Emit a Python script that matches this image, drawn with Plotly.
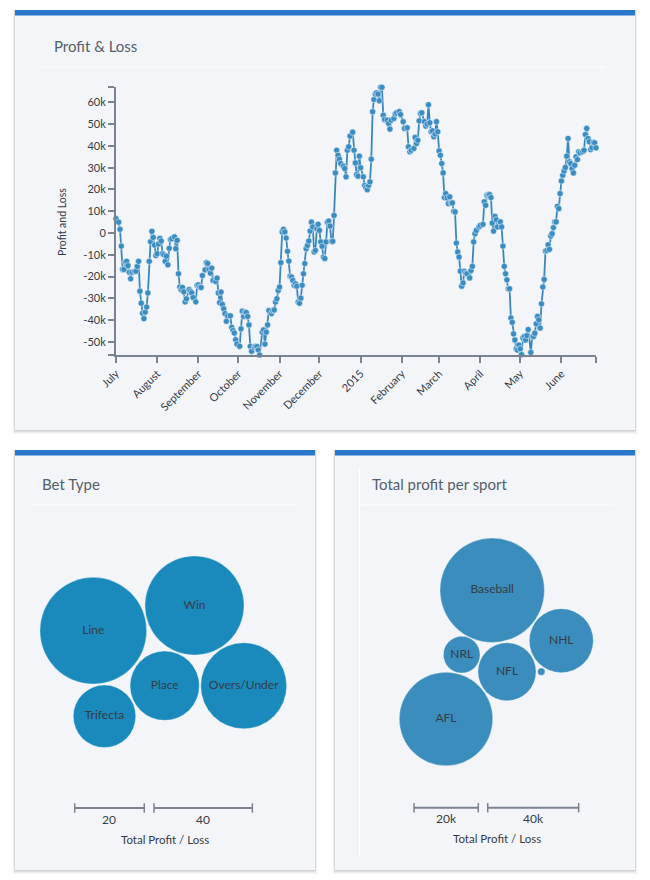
import pandas as pd
import plotly.graph_objects as go

# ---------------- DATA ----------------
START = "2014-07-01"
# day offsets from START and cumulative profit/loss (thousands)
pnl_days = [
    0, 2, 3, 4, 5, 6, 7, 8, 9, 10,
    11, 12, 14, 15, 16, 17, 18, 19, 20, 21,
    22, 23, 24, 25, 26, 27, 28, 29, 30, 31,
    32, 33, 34, 35, 36, 37, 38, 39, 40, 41,
    42, 44, 45, 46, 47, 48, 49, 50, 51, 52,
    53, 55, 56, 57, 58, 60, 61, 62, 63, 64,
    65, 67, 68, 69, 70, 71, 72, 73, 75, 76,
    77, 78, 79, 80, 81, 82, 83, 84, 86, 87,
    88, 89, 90, 91, 93, 94, 95, 96, 97, 98,
    99, 100, 101, 102, 104, 105, 106, 107, 108, 110,
    111, 112, 113, 114, 115, 117, 118, 119, 120, 121,
    122, 123, 124, 125, 126, 127, 128, 129, 130, 131,
    132, 133, 134, 135, 136, 137, 138, 139, 140, 141,
    142, 143, 144, 145, 146, 147, 148, 149, 150, 151,
    152, 153, 154, 155, 156, 157, 158, 159, 160, 161,
    162, 163, 164, 165, 166, 167, 168, 169, 171, 172,
    173, 174, 175, 176, 178, 179, 180, 181, 182, 183,
    184, 186, 187, 188, 189, 190, 191, 192, 193, 194,
    195, 196, 197, 198, 199, 200, 201, 202, 204, 205,
    206, 207, 209, 210, 211, 213, 214, 216, 217, 219,
    220, 221, 222, 224, 225, 226, 227, 228, 229, 230,
    232, 233, 234, 235, 236, 237, 238, 239, 240, 241,
    242, 243, 244, 245, 246, 247, 248, 249, 250, 251,
    252, 253, 254, 255, 256, 257, 258, 259, 260, 261,
    262, 263, 264, 266, 267, 268, 269, 270, 271, 273,
    274, 276, 277, 278, 279, 280, 281, 282, 283, 284,
    285, 286, 287, 289, 290, 291, 292, 293, 294, 295,
    296, 297, 298, 299, 300, 301, 302, 303, 304, 305,
    306, 307, 308, 309, 310, 312, 313, 314, 315, 316,
    317, 318, 319, 320, 321, 322, 323, 324, 325, 326,
    327, 328, 329, 330, 331, 332, 333, 334, 335, 336,
    337, 338, 339, 340, 341, 342, 343, 344, 345, 346,
    347, 348, 349, 351, 352, 353, 354, 355, 356, 357,
    358, 359, 360, 361,
]
pnl_k = [
    6.6, 5.0, 1.7, -6.0, -16.7, -16.7, -13.3, -13.0, -15.0, -18.0,
    -21.0, -18.0, -17.6, -17.5, -15.3, -13.0, -26.7, -32.2, -36.8, -39.3,
    -36.3, -34.0, -27.5, -13.0, -4.0, 0.8, -2.0, -5.5, -10.3, -9.5,
    -5.0, -2.5, -3.7, -9.4, -10.0, -13.0, -10.6, -14.6, -7.0, -3.0,
    -2.6, -1.8, -7.2, -3.4, -18.7, -24.8, -26.0, -25.0, -27.0, -31.6,
    -30.2, -26.0, -26.8, -27.5, -29.6, -31.6, -24.0, -23.8, -24.8, -25.0,
    -19.5, -16.9, -13.6, -14.0, -16.7, -18.4, -16.1, -21.8, -22.2, -20.7,
    -27.5, -32.0, -27.1, -32.8, -34.8, -37.0, -40.5, -38.0, -38.0, -43.3,
    -44.8, -45.9, -49.0, -51.0, -52.0, -44.0, -35.9, -38.3, -36.3, -36.5,
    -38.3, -42.2, -52.0, -54.3, -52.5, -52.0, -52.1, -53.7, -56.0, -45.5,
    -44.5, -51.0, -45.5, -42.2, -35.6, -37.0, -35.6, -35.3, -31.7, -30.2,
    -26.4, -24.8, -13.6, 0.5, 1.7, 0.5, -2.3, -8.4, -12.9, -19.8,
    -20.2, -21.8, -24.0, -23.3, -24.4, -31.7, -32.2, -29.9, -24.0, -18.7,
    -14.0, -7.2, -5.7, -3.7, 0.9, 5.0, 2.8, -8.7, -8.0, 2.0,
    4.0, 1.2, -4.1, -6.1, -11.0, -11.7, -4.1, 5.0, 5.5, 3.2,
    -3.8, -3.8, 8.1, 27.6, 38.0, 35.7, 33.9, 31.9, 30.7, 29.6,
    25.8, 38.0, 39.6, 44.5, 46.3, 38.0, 32.2, 26.8, 26.1, 35.3,
    30.0, 25.8, 21.9, 20.9, 19.9, 21.9, 23.5, 33.9, 55.7, 61.3,
    63.8, 64.4, 63.8, 60.7, 66.9, 66.9, 54.1, 52.1, 51.8, 50.3,
    47.7, 51.8, 52.6, 54.6, 55.2, 55.7, 54.4, 51.1, 48.0, 48.3,
    39.6, 37.3, 38.0, 38.8, 43.9, 41.1, 42.6, 51.5, 54.9, 55.2,
    51.1, 49.1, 50.0, 58.9, 50.6, 46.5, 46.9, 44.2, 45.4, 51.1,
    46.5, 37.7, 35.7, 31.9, 27.6, 16.3, 18.1, 16.1, 13.5, 16.6,
    13.8, 13.8, 10.0, 9.7, -4.6, -8.7, -11.0, -17.5, -24.4, -22.9,
    -17.6, -18.4, -18.7, -20.6, -17.2, -15.3, -4.1, -0.3, 1.2, 2.8,
    3.5, 4.0, 14.3, 12.7, 17.3, 17.6, 17.6, 16.3, 4.6, 0.9,
    7.7, 6.1, 2.8, 5.1, 2.8, -6.0, -15.3, -18.7, -21.5, -25.6,
    -25.6, -39.0, -41.0, -46.3, -49.1, -53.2, -53.7, -51.4, -53.2, -55.8,
    -48.2, -47.5, -49.1, -47.1, -44.3, -54.8, -47.5, -47.5, -46.0, -41.7,
    -38.3, -39.9, -43.6, -32.5, -24.8, -21.3, -8.3, -8.0, -5.4, -7.5,
    -1.4, -0.3, 2.5, 5.1, 5.1, 12.3, 11.2, 18.1, 23.9, 26.5,
    28.5, 30.1, 35.3, 43.4, 32.7, 31.9, 29.6, 27.6, 31.1, 35.0,
    33.7, 37.3, 36.8, 37.3, 38.0, 45.2, 48.0, 43.4, 41.9, 38.3,
    39.1, 41.6, 41.4, 39.1,
]
assert len(pnl_days) == len(pnl_k)

month_ticks = ["2014-07-01", "2014-08-01", "2014-09-01", "2014-10-01", "2014-11-01",
               "2014-12-01", "2015-01-01", "2015-02-01", "2015-03-01", "2015-04-01",
               "2015-05-01", "2015-06-01"]
month_labels = ["July", "August", "September", "October", "November", "December",
                "2015", "February", "March", "April", "May", "June"]
y_ticks_k = [-50, -40, -30, -20, -10, 0, 10, 20, 30, 40, 50, 60]
y_tick_labels = ["-50k", "-40k", "-30k", "-20k", "-10k", "0", "10k", "20k", "30k",
                 "40k", "50k", "60k"]

bet_types = ["Line", "Win", "Place", "Overs/Under", "Trifecta"]
bet_profit = [47.0, 40.5, 19.8, 30.5, 16.1]
bet_legend_vals = [20, 40]
bet_legend_labels = ["20", "40"]

sports = ["Baseball", "NHL", "NRL", "NFL", "Other", "AFL"]
sport_profit_k = [52.7, 19.8, 6.5, 16.3, 0.26, 42.2]
sport_legend_vals = [20, 40]
sport_legend_labels = ["20k", "40k"]

# ---------------- LAYOUT / STYLE ----------------
W, H = 650, 880
FONT = "Lato"
AX = "#7b8391"
CARD = "#f3f5f9"
BLUE_BAR = "#2a78cc"
TITLE_C = "#555e6a"
TEXT_C = "#363c45"

# packed-bubble centre positions (panel pixel units, layout only)
BET_POS = [(78.3, 175.7), (179.5, 150.5), (149.7, 230.7), (228.7, 230.8), (89.5, 261.3)]
SPORT_POS = [(157.2, 135.3), (226.3, 185.7), (126.7, 199.7), (172.0, 216.7), (206.3, 216.7), (111.0, 264.0)]
BET_K = 15.56     # px diameter per sqrt(unit)
SPORT_K = 14.38


def fx(x):
    return x / W


def fy(y):
    return 1 - y / H


shapes = []
annotations = []


def card(x0, y0, x1, y1):
    # soft shadow
    for d, a in [(4, 0.03), (3, 0.04), (2, 0.05), (1, 0.06)]:
        shapes.append(dict(type="rect", xref="paper", yref="paper", layer="below",
                           x0=fx(x0 - d * 0.5), x1=fx(x1 + d * 0.5), y0=fy(y1 + d), y1=fy(y0),
                           fillcolor=f"rgba(0,0,0,{a})", line=dict(width=0)))
    shapes.append(dict(type="rect", xref="paper", yref="paper", layer="below",
                       x0=fx(x0), x1=fx(x1), y0=fy(y1), y1=fy(y0),
                       fillcolor=CARD, line=dict(width=0)))
    shapes.append(dict(type="rect", xref="paper", yref="paper", layer="below",
                       x0=fx(x0), x1=fx(x1), y0=fy(y0 + 5.5), y1=fy(y0),
                       fillcolor=BLUE_BAR, line=dict(width=0)))


def hline(x0, x1, y):
    shapes.append(dict(type="line", xref="paper", yref="paper", layer="below",
                       x0=fx(x0), x1=fx(x1), y0=fy(y), y1=fy(y),
                       line=dict(color="#ffffff", width=1.2)))


def title(text, x, y):
    annotations.append(dict(text=text, xref="paper", yref="paper", x=fx(x), y=fy(y),
                            xanchor="left", yanchor="middle", showarrow=False,
                            font=dict(family=FONT, size=15, color=TITLE_C)))


card(15, 10, 635, 430)
card(15, 450, 315, 870)
card(335, 450, 635, 870)
hline(40, 605, 67)
hline(32, 296, 505)
hline(360, 615, 505)
shapes.append(dict(type="line", xref="paper", yref="paper", layer="below",
                   x0=fx(359.5), x1=fx(359.5), y0=fy(467), y1=fy(856),
                   line=dict(color="#ffffff", width=1.2)))
title("Profit &amp; Loss", 52, 45.5)
title("Bet Type", 40, 484)
title("Total profit per sport", 370, 484)

annotations.append(dict(text="Profit and Loss", xref="paper", yref="paper",
                        x=fx(62), y=fy(222), textangle=-90, showarrow=False,
                        xanchor="center", yanchor="middle",
                        font=dict(family=FONT, size=10.5, color=TEXT_C)))

fig = go.Figure()

# ---- Profit & Loss line ----
dates = pd.Timestamp(START) + pd.to_timedelta(pnl_days, unit="D")
fig.add_trace(go.Scatter(
    x=dates, y=pnl_k, mode="lines+markers",
    line=dict(color="#3a87be", width=1.8),
    marker=dict(size=6.2, color="#3a8cc2", line=dict(color="rgba(255,255,255,0.55)", width=0.9)),
    cliponaxis=False, hoverinfo="skip", showlegend=False, xaxis="x", yaxis="y"))

# ---- bubble panels ----
def bubbles(names, vals, pos, k, color, xa, ya):
    sizes = [k * v ** 0.5 for v in vals]
    labels = [n if s > 20 else "" for n, s in zip(names, sizes)]
    fig.add_trace(go.Scatter(
        x=[p[0] for p in pos], y=[p[1] for p in pos], mode="markers+text",
        text=labels, textposition="middle center",
        textfont=dict(family=FONT, size=12, color=TEXT_C),
        marker=dict(size=sizes, sizemode="diameter", color=color, opacity=1,
                    line=dict(width=0.6, color="rgba(255,255,255,0.5)")),
        cliponaxis=False, hoverinfo="skip", showlegend=False, xaxis=xa, yaxis=ya))


def size_legend(vals, labels, k, x_start, gap, y_bar, title_x, xa, ya):
    x = x_start
    xr, yr = xa, ya.replace("axis", "")
    for v, lab in zip(vals, labels):
        L = k * v ** 0.5
        shapes.append(dict(type="line", xref=xr, yref=yr, x0=x, x1=x + L, y0=y_bar, y1=y_bar,
                           line=dict(color=AX, width=2)))
        for xe in (x, x + L):
            shapes.append(dict(type="line", xref=xr, yref=yr, x0=xe, x1=xe,
                               y0=y_bar - 4.7, y1=y_bar + 4.7, line=dict(color=AX, width=1.5)))
        annotations.append(dict(text=lab, xref=xr, yref=yr, x=x + L / 2, y=y_bar + 11,
                                showarrow=False, xanchor="center", yanchor="middle",
                                font=dict(family=FONT, size=12, color=TEXT_C)))
        x += L + gap
    annotations.append(dict(text="Total Profit / Loss", xref=xr, yref=yr, x=title_x,
                            y=y_bar + 31, showarrow=False, xanchor="center", yanchor="middle",
                            font=dict(family=FONT, size=11.5, color=TEXT_C)))


bubbles(bet_types, bet_profit, BET_POS, BET_K, "#1a8abd", "x2", "y2")
bubbles(sports, sport_profit_k, SPORT_POS, SPORT_K, "#3b8dbd", "x3", "y3")
size_legend(bet_legend_vals, bet_legend_labels, BET_K, 59.7, 9.7, 353, 150, "x2", "yaxis2")
size_legend(sport_legend_vals, sport_legend_labels, SPORT_K, 79, 9.4, 352.7, 161.7, "x3", "yaxis3")

tickfont = dict(family=FONT, size=11, color=TEXT_C)
ymin, ymax = min(pnl_k), max(pnl_k)
hidden = dict(visible=False, fixedrange=True, showgrid=False, zeroline=False)

fig.update_layout(
    width=W, height=H, margin=dict(l=0, r=0, t=0, b=0, pad=0, autoexpand=False),
    paper_bgcolor="#ffffff", plot_bgcolor="rgba(0,0,0,0)",
    showlegend=False, shapes=shapes, annotations=annotations,
    xaxis=dict(domain=[fx(116), fx(596)], anchor="y", type="date",
               range=[dates[0], dates[-1]], automargin=False,
               tickvals=month_ticks + [dates[-1]], ticktext=month_labels + [""],
               tickangle=-45, ticks="outside", ticklen=6, tickwidth=1.5, tickcolor=AX,
               showline=True, linecolor=AX, linewidth=2, showgrid=False, zeroline=False,
               tickfont=tickfont, fixedrange=True),
    yaxis=dict(domain=[fy(355), fy(87.3)], anchor="x", range=[ymin, ymax], automargin=False,
               tickvals=[ymin] + y_ticks_k + [ymax], ticktext=[""] + y_tick_labels + [""],
               ticks="outside", ticklen=6, tickwidth=1.5, tickcolor=AX,
               showline=True, linecolor=AX, linewidth=2, showgrid=False, zeroline=False,
               tickfont=tickfont, fixedrange=True),
    xaxis2=dict(domain=[fx(15), fx(315)], range=[0, 300], anchor="y2", **hidden),
    yaxis2=dict(domain=[fy(870), fy(455)], range=[415, 0], anchor="x2", **hidden),
    xaxis3=dict(domain=[fx(335), fx(635)], range=[0, 300], anchor="y3", **hidden),
    yaxis3=dict(domain=[fy(870), fy(455)], range=[415, 0], anchor="x3", **hidden),
)

fig.write_html("out.html")
